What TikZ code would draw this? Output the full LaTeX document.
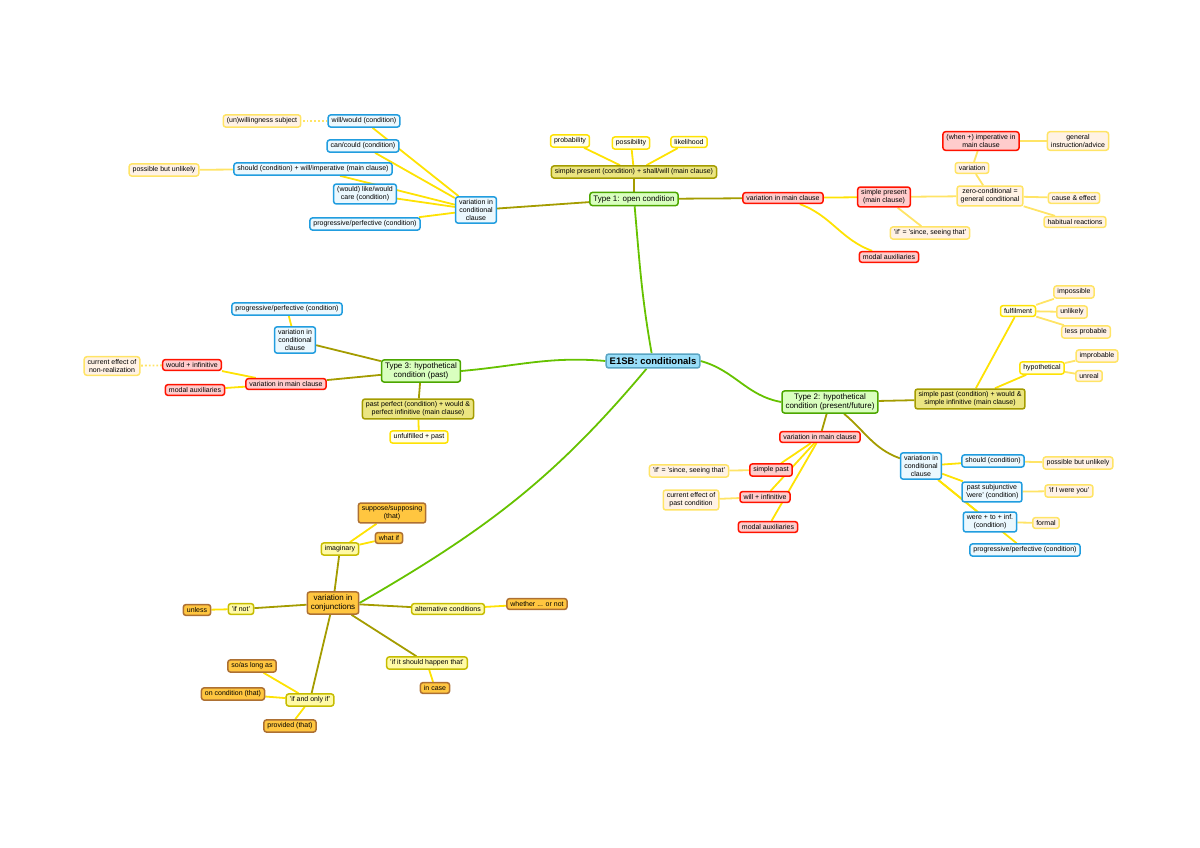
\documentclass[tikz,border=0pt]{standalone}
\usepackage{fontspec}
\setmainfont{Liberation Sans}
\usetikzlibrary{backgrounds}
\begin{document}
\begin{tikzpicture}[x=1pt,y=-1pt,
 b/.style={rounded corners=2.5pt,line width=1.5pt,align=center,font=\fontsize{7}{7.8}\selectfont,inner xsep=3.5pt,inner ysep=2.8pt},
 root/.style={b,fill=cyan!40!white,draw=cyan!70!black!80,font=\bfseries\fontsize{9.5}{10.5}\selectfont,inner ysep=3.5pt},
 grn/.style={b,fill=green!60!yellow!25!white,draw=green!50!black!70!yellow,font=\fontsize{8}{9}\selectfont},
 oli/.style={b,fill=yellow!60!olive!45!white,draw=olive!80!yellow},
 blu/.style={b,fill=cyan!8,draw=cyan!80!blue!90},
 red/.style={b,fill=red!20,draw=red!85!orange},
 yel/.style={b,fill=yellow!8,draw=yellow!85!orange},
 lor/.style={b,fill=orange!10,draw=orange!35!yellow!60},
 ora/.style={b,fill=orange!60!yellow!75,draw=orange!60!black!80},
 olg/.style={b,fill=yellow!35!white,draw=olive!50!yellow},
 lg/.style={line width=1.8pt,draw=green!60!black!60!yellow},
 lo/.style={line width=1.8pt,draw=olive!80!yellow},
 ly/.style={line width=1.8pt,draw=yellow!85!orange},
 ll/.style={line width=1.8pt,draw=orange!35!yellow!60}]
\useasboundingbox (0,0) rectangle (1200,848);
% nodes
\node[root] (root) at (653,361) {E1SB: conditionals};
\node[grn] (t1) at (634,199) {Type 1: open condition};
\node[oli] (t1a) at (634,172) {simple present (condition) + shall/will (main clause)};
\node[yel] (prob) at (570,141) {probability};
\node[yel] (poss) at (631,143) {possibility};
\node[yel] (like) at (689,142) {likelihood};
\node[red] (t1v) at (783,198) {variation in main clause};
\node[red] (sp) at (884,197) {simple present\\(main clause)};
\node[lor] (zc) at (990,196) {zero-conditional =\\general conditional};
\node[lor] (var) at (972,168) {variation};
\node[red] (wh) at (981,141) {(when +) imperative in\\main clause};
\node[lor] (gi) at (1078,141) {general\\instruction/advice};
\node[lor] (ce) at (1074,198) {cause \& effect};
\node[lor] (hr) at (1075,222) {habitual reactions};
\node[lor] (ifs) at (930,233) {'if' = 'since, seeing that'};
\node[red] (ma1) at (889,257) {modal auxiliaries};
\node[blu] (t1c) at (476,210) {variation in\\conditional\\clause};
\node[blu] (wwc) at (364,121) {will/would (condition)};
\node[lor] (unw) at (262,121) {(un)willingness subject};
\node[blu] (ccc) at (363,146) {can/could (condition)};
\node[blu] (sh) at (313,169) {should (condition) + will/imperative (main clause)};
\node[lor] (pbu) at (164,170) {possible but unlikely};
\node[blu] (wl) at (365,194) {(would) like/would\\care (condition)};
\node[blu] (pp1) at (365,224) {progressive/perfective (condition)};
\node[grn] (t3) at (421,371) {Type 3: hypothetical\\condition (past)};
\node[blu] (t3c) at (295,340) {variation in\\conditional\\clause};
\node[blu] (pp3) at (287,309) {progressive/perfective (condition)};
\node[red] (t3v) at (286,384) {variation in main clause};
\node[red] (wi) at (192,365) {would + infinitive};
\node[lor] (ce3) at (112,366) {current effect of\\non-realization};
\node[red] (ma3) at (195,390) {modal auxiliaries};
\node[oli] (t3a) at (418,409) {past perfect (condition) + would \&\\perfect infinitive (main clause)};
\node[yel] (unf) at (419,437) {unfulfilled + past};
\node[grn] (t2) at (830,402) {Type 2: hypothetical\\condition (present/future)};
\node[oli] (t2a) at (970,399) {simple past (condition) + would \&\\simple infinitive (main clause)};
\node[yel] (ful) at (1018,311) {fulfilment};
\node[lor] (imp) at (1074,292) {impossible};
\node[lor] (unl) at (1072,312) {unlikely};
\node[lor] (lp) at (1086,332) {less probable};
\node[yel] (hyp) at (1042,368) {hypothetical};
\node[lor] (impr) at (1097,356) {improbable};
\node[lor] (unr) at (1089,376) {unreal};
\node[red] (t2v) at (820,437) {variation in main clause};
\node[red] (spa) at (771,470) {simple past};
\node[lor] (ifs2) at (689,471) {'if' = 'since, seeing that'};
\node[red] (wil) at (765,497) {will + infinitive};
\node[lor] (ce2) at (691,500) {current effect of\\past condition};
\node[red] (ma2) at (768,527) {modal auxiliaries};
\node[blu] (t2c) at (921,466) {variation in\\conditional\\clause};
\node[blu] (shc) at (993,461) {should (condition)};
\node[lor] (pbu2) at (1078,463) {possible but unlikely};
\node[blu] (psj) at (992,492) {past subjunctive\\'were' (condition)};
\node[lor] (iwy) at (1069,491) {'if I were you'};
\node[blu] (wti) at (990,522) {were + to + inf.\\(condition)};
\node[lor] (form) at (1046,523) {formal};
\node[blu] (pp2) at (1025,550) {progressive/perfective (condition)};
\node[ora,font=\fontsize{8}{9}\selectfont] (vc) at (333,603) {variation in\\conjunctions};
\node[olg] (ima) at (340,549) {imaginary};
\node[ora] (sup) at (392,513) {suppose/supposing\\(that)};
\node[ora] (whi) at (389,538) {what if};
\node[olg] (ifn) at (241,609) {'if not'};
\node[ora] (unless) at (197,610) {unless};
\node[olg] (alt) at (448,609) {alternative conditions};
\node[ora] (wh2) at (537,604) {whether ... or not};
\node[olg] (iso) at (427,663) {'if it should happen that'};
\node[ora] (inc) at (435,688) {in case};
\node[olg] (iao) at (310,700) {'if and only if'};
\node[ora] (soa) at (252,666) {so/as long as};
\node[ora] (onc) at (233,694) {on condition (that)};
\node[ora] (prov) at (290,726) {provided (that)};
% edges
\begin{scope}[on background layer]
\draw[lg] (root) to[out=100,in=-85] (t1);
\draw[lg] (root.west) to[out=175,in=5] (t3.east);
\draw[lg] (root.east) to[out=-15,in=170] (t2.west);
\draw[lg] (root) to[out=-130,in=30] (vc.east);
\draw[lo] (t1) -- (t1a); \draw[lo] (t1) -- (t1v); \draw[lo] (t1) -- (t1c);
\draw[ly] (t1a) -- (prob); \draw[ly] (t1a) -- (poss); \draw[ly] (t1a) -- (like);
\draw[ly] (t1v) -- (sp); \draw[ly] (t1v) to[out=-20,in=160] (ma1);
\draw[ll] (sp) -- (zc); \draw[ll] (sp) -- (ifs);
\draw[ll] (zc) -- (var); \draw[ll] (var) -- (wh); \draw[ll] (wh) -- (gi);
\draw[ll] (zc) -- (ce); \draw[ll] (zc) -- (hr);
\foreach \n in {wwc,ccc,sh,wl,pp1} \draw[ly] (t1c) -- (\n);
\draw[ll,dotted] (wwc) -- (unw); \draw[ll] (sh) -- (pbu);
\draw[lo] (t3) -- (t3c); \draw[lo] (t3) -- (t3v); \draw[lo] (t3) -- (t3a);
\draw[ly] (t3c) -- (pp3); \draw[ly] (t3v) -- (wi); \draw[ly] (t3v) -- (ma3);
\draw[ll,dotted] (wi) -- (ce3); \draw[ly] (t3a) -- (unf);
\draw[lo] (t2) -- (t2a); \draw[lo] (t2) -- (t2v); \draw[lo] (t2) to[out=-40,in=160] (t2c);
\draw[ly] (t2a) -- (ful); \draw[ly] (t2a) -- (hyp);
\draw[ll] (ful) -- (imp); \draw[ll] (ful) -- (unl); \draw[ll] (ful) -- (lp);
\draw[ll] (hyp) -- (impr); \draw[ll] (hyp) -- (unr);
\draw[ly] (t2v) -- (spa); \draw[ly] (t2v) -- (wil); \draw[ly] (t2v) -- (ma2);
\draw[ll] (spa) -- (ifs2); \draw[ll] (wil) -- (ce2);
\foreach \n in {shc,psj,wti,pp2} \draw[ly] (t2c) -- (\n);
\draw[ll] (shc) -- (pbu2); \draw[ll] (psj) -- (iwy); \draw[ll] (wti) -- (form);
\draw[lo] (vc) -- (ima); \draw[lo] (vc) -- (ifn); \draw[lo] (vc) -- (alt);
\draw[lo] (vc) -- (iso); \draw[lo] (vc) -- (iao);
\draw[ly] (ima) -- (sup); \draw[ly] (ima) -- (whi); \draw[ly] (ifn) -- (unless);
\draw[ly] (alt) -- (wh2); \draw[ly] (iso) -- (inc);
\draw[ly] (iao) -- (soa); \draw[ly] (iao) -- (onc); \draw[ly] (iao) -- (prov);
\end{scope}
\end{tikzpicture}
\end{document}
